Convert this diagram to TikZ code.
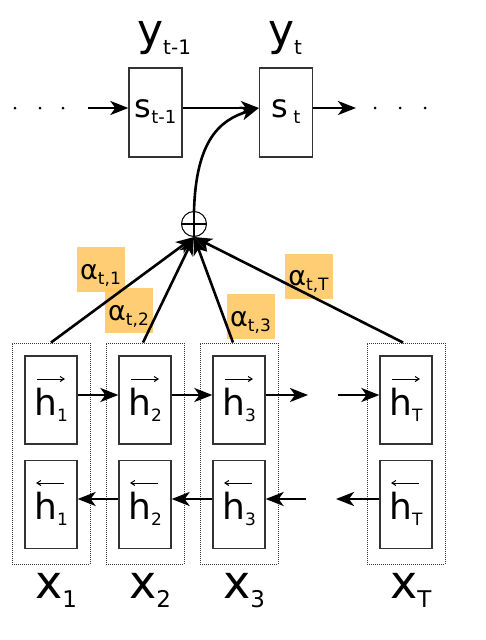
\documentclass[tikz,border=0pt]{standalone}
\usepackage{fontspec}
\setmainfont{DejaVu Sans}
\usetikzlibrary{arrows.meta,calc}
\definecolor{attn}{RGB}{255,200,100}
\newcommand\fs[1]{\fontsize{#1}{#1}\selectfont}
\newcommand\sub[3]{\raisebox{-#1pt}{\fs{#2}#3}}
\tikzset{
  arr/.style={line width=2.6pt,-{Stealth[length=18pt,width=14pt,inset=5pt]}},
  sbox/.style={draw=black!80,line width=1.3pt,minimum width=53pt,minimum height=89pt,inner sep=0pt,
    text height=17pt,text depth=8pt},
  hbox/.style={draw=black!80,line width=1.3pt,minimum width=52pt,minimum height=88pt,inner sep=0pt,
    text height=30pt,text depth=0pt},
  grp/.style={draw=black!80,densely dotted,line width=1pt,minimum width=78pt,minimum height=221pt,inner sep=0pt},
  attbox/.style={fill=attn,fill opacity=0.9,text opacity=1,minimum width=48pt,minimum height=45pt,inner sep=0pt,
    text height=21pt,text depth=2pt},
  acc/.style={line width=1pt,-{Straight Barb[length=4pt,width=5pt]}},
  lbl/.style={inner sep=0pt,anchor=base west},
}
\begin{document}
\begin{tikzpicture}[x=1pt,y=-1pt]
\useasboundingbox (0,0) rectangle (486,640);
% decoder
\node[sbox] (s1) at (155.5,112.5) {\fs{32}s\sub{6}{18}{t-1}};
\node[sbox] (st) at (286,112.5) {\fs{32}s\,\sub{6}{18}{t}};
\node[lbl] (y1) at (137,45) {\fs{44}y\sub{9}{20}{t-1}};
\node[lbl] (yt) at (268,45) {\fs{44}y\sub{9}{20}{t}};
\foreach \x in {15,40,63,375,400,425} \fill (\x,108) circle (1.5);
\coordinate (lin) at (88,108);
\coordinate (rout) at (356,108);
\draw[arr] (lin) -- ([yshift=4.5pt]s1.west);
\draw[arr] ([yshift=4.5pt]s1.east) -- ([yshift=4.5pt]st.west);
\draw[arr] ([yshift=4.5pt]st.east) -- (rout);
% plus
\node[circle,draw,line width=1pt,minimum size=25pt,inner sep=0pt] (plus) at (194,224) {};
\draw[line width=2.6pt] (plus.north) -- (plus.south) (plus.west) -- (plus.east);
\draw[arr] (plus.north) .. controls (196,140) and (220,120) .. ([yshift=4.5pt]st.west);
% encoder groups
\foreach \n/\x in {1/51,2/145,3/239,T/406}{
  \node[grp] (g\n) at (\x,453.5) {};
}
\foreach \n/\x in {1/51,2/145,3/239,T/406}{
  \node[hbox] (hf\n) at (\x,400) {\fs{36}h\sub{6}{17}{\n}};
  \node[hbox] (hb\n) at (\x,504.5) {\fs{36}h\sub{6}{17}{\n}};
  \draw[acc] ([xshift=-14pt,yshift=21pt]hf\n.center) -- ([xshift=14pt,yshift=21pt]hf\n.center);
  \draw[acc] ([xshift=13pt,yshift=21.5pt]hb\n.center) -- ([xshift=-15pt,yshift=21.5pt]hb\n.center);
}
\node[lbl] (x1) at (35,598) {\fs{46}x\sub{9}{23}{1}};
\node[lbl] (x2) at (129,598) {\fs{46}x\sub{9}{23}{2}};
\node[lbl] (x3) at (223,598) {\fs{46}x\sub{9}{23}{3}};
\node[lbl] (xT) at (390,598) {\fs{46}x\sub{9}{23}{T}};
% recurrent arrows
\coordinate (f3) at (308,395);
\coordinate (fT) at (338,395);
\coordinate (b3) at (306,499);
\coordinate (bT) at (336,499);
\draw[arr] ([yshift=5pt]hf1.east) -- ([yshift=5pt]hf2.west);
\draw[arr] ([yshift=5pt]hf2.east) -- ([yshift=5pt]hf3.west);
\draw[arr] ([yshift=5pt]hf3.east) -- (f3);
\draw[arr] (fT) -- ([yshift=5pt]hfT.west);
\draw[arr] ([yshift=5.5pt]hb2.west) -- ([yshift=5.5pt]hb1.east);
\draw[arr] ([yshift=5.5pt]hb3.west) -- ([yshift=5.5pt]hb2.east);
\draw[arr] (b3) -- ([yshift=5.5pt]hb3.east);
\draw[arr] ([yshift=5.5pt]hbT.west) -- (bT);
% attention weights
\node[attbox] (a1) at (100.5,269.5) {\fs{27}α\sub{5}{17}{t,1}};
\node[attbox] (a2) at (128.5,310.5) {\fs{27}α\sub{5}{17}{t,2}};
\node[attbox] (a3) at (250.5,316.5) {\fs{27}α\sub{5}{17}{t,3}};
\node[attbox] (aT) at (308.5,276) {\fs{27}α\sub{5}{17}{t,T}};
\draw[arr] (g1.north) -- (plus.south);
\draw[arr] ([xshift=-2pt]g2.north) -- (plus.south);
\draw[arr] ([xshift=-6pt]g3.north) -- (plus.south);
\draw[arr] ([xshift=-3pt]gT.north) -- (plus.south);
\end{tikzpicture}
\end{document}
